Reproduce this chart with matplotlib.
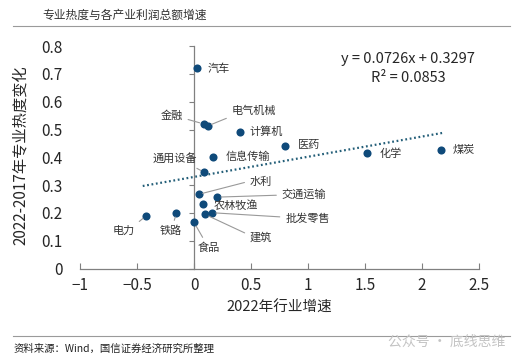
import matplotlib
matplotlib.use("Agg")
from matplotlib import pyplot as plt

plt.rcParams['font.family'] = ['Noto Sans CJK SC', 'DejaVu Sans']

industries = ['汽车', '金融', '电气机械', '计算机', '医药', '化学', '煤炭', '信息传输',
              '通用设备', '水利', '交通运输', '农林牧渔', '批发零售', '建筑', '食品',
              '电力', '铁路']
growth = [0.03, 0.085, 0.12, 0.40, 0.80, 1.52, 2.17, 0.17,
          0.09, 0.04, 0.20, 0.075, 0.155, 0.096, 0.0,
          -0.42, -0.155]
heat_change = [0.72, 0.52, 0.513, 0.491, 0.441, 0.417, 0.425, 0.401,
               0.346, 0.267, 0.257, 0.231, 0.201, 0.195, 0.166,
               0.19, 0.20]

slope = 0.0726
intercept = 0.3297
r2 = 0.0853
trend_x = [-0.45, 2.18]

x_ticks = [-1, -0.5, 0, 0.5, 1, 1.5, 2, 2.5]
y_ticks = [0, 0.1, 0.2, 0.3, 0.4, 0.5, 0.6, 0.7, 0.8]

# label placement: (text x, text y, ha, leader line connection or None)
label_pos = {
    '汽车': (0.12, 0.72, 'left', None),
    '计算机': (0.49, 0.491, 'left', None),
    '医药': (0.91, 0.443, 'left', None),
    '化学': (1.63, 0.415, 'left', None),
    '煤炭': (2.27, 0.425, 'left', None),
    '信息传输': (0.28, 0.401, 'left', None),
    '农林牧渔': (0.17, 0.228, 'left', None),
    '金融': (-0.1, 0.549, 'right', 'arc,angleA=0,armA=4,angleB=120,armB=0,rad=0'),
    '电气机械': (0.33, 0.569, 'left', 'arc,angleA=180,armA=8,angleB=60,armB=0,rad=0'),
    '通用设备': (0.03, 0.395, 'right', 'arc,angleA=0,armA=4,angleB=90,armB=0,rad=0'),
    '水利': (0.49, 0.312, 'left', 'arc,angleA=180,armA=14,angleB=30,armB=0,rad=0'),
    '交通运输': (0.77, 0.267, 'left', 'arc3'),
    '批发零售': (0.80, 0.18, 'left', 'arc3'),
    '建筑': (0.49, 0.111, 'left', 'arc,angleA=180,armA=6,angleB=-40,armB=0,rad=0'),
    '食品': (0.03, 0.075, 'left', 'arc3'),
    '电力': (-0.52, 0.135, 'right', 'arc,angleA=0,armA=4,angleB=-90,armB=0,rad=0'),
    '铁路': (-0.20, 0.135, 'center', 'arc3'),
}

point_color = '#0F4A7A'
text_color = '#333333'
axis_color = '#808080'

fig = plt.figure(figsize=(5.3, 3.63), dpi=100)
ax = fig.add_axes([0.151, 0.260, 0.753, 0.613])

ax.scatter(growth, heat_change, s=34, color=point_color, zorder=3, linewidths=0)

trend_y = [slope * x + intercept for x in trend_x]
ax.plot(trend_x, trend_y, color='#235E78', lw=1.6, linestyle=(0, (0.8, 1.2)), zorder=2)

for name, gx, hy in zip(industries, growth, heat_change):
    tx, ty, ha, conn = label_pos[name]
    if conn:
        ax.annotate(name, xy=(gx, hy), xytext=(tx, ty), ha=ha, va='center',
                    fontsize=8, color=text_color,
                    arrowprops=dict(arrowstyle='-', color='#999999', lw=0.8,
                                    shrinkA=2, shrinkB=3, connectionstyle=conn))
    else:
        ax.text(tx, ty, name, ha=ha, va='center', fontsize=8, color=text_color)

ax.text(1.88, 0.754, 'y = %.4fx + %.4f' % (slope, intercept), ha='center',
        va='center', fontsize=10.5, color='#262626')
ax.text(1.88, 0.685, 'R² = %.4f' % r2, ha='center', va='center',
        fontsize=10.5, color='#262626')

ax.set_xlim(-1, 2.5)
ax.set_ylim(0, 0.8)
ax.set_xticks(x_ticks)
ax.set_yticks(y_ticks)
ax.set_xticklabels(['−1' if t == -1 else ('−0.5' if t == -0.5 else ('%g' % t)) for t in x_ticks])
ax.set_yticklabels(['%g' % t for t in y_ticks])

ax.spines['top'].set_visible(False)
ax.spines['right'].set_visible(False)
ax.spines['left'].set_position(('data', 0))
ax.spines['left'].set_bounds(0, 0.8)
for s in ('left', 'bottom'):
    ax.spines[s].set_color(axis_color)
    ax.spines[s].set_linewidth(0.9)

ax.tick_params(axis='x', direction='in', length=4, color=axis_color,
               labelsize=11, labelcolor='#262626', pad=6)
ax.tick_params(axis='y', direction='out', length=3.5, color=axis_color,
               labelsize=11, labelcolor='#262626', pad=91)
ax.patch.set_visible(False)

ax.set_xlabel('2022年行业增速', fontsize=10.5, color='#262626', labelpad=5)
fig.text(0.038, 0.573, '2022-2017年专业热度变化', rotation=90, ha='center',
         va='center', fontsize=11, color='#262626')

fig.text(0.079, 0.958, '专业热度与各产业利润总额增速', fontsize=8.5,
         color=text_color, va='center', ha='left')
fig.add_artist(plt.Line2D([0.025, 0.962], [0.928, 0.928], color='#9a9a9a', lw=0.8))
fig.add_artist(plt.Line2D([0.025, 0.962], [0.075, 0.075], color='#9a9a9a', lw=0.8))
fig.text(0.025, 0.039, '资料来源：Wind，国信证券经济研究所整理', fontsize=7.5,
         color='#222222', va='center', ha='left')
fig.text(0.953, 0.059, '公众号 · 底线思维', fontsize=10, color='#c4c4c4',
         va='center', ha='right')

fig.savefig('out.png', dpi=100)
